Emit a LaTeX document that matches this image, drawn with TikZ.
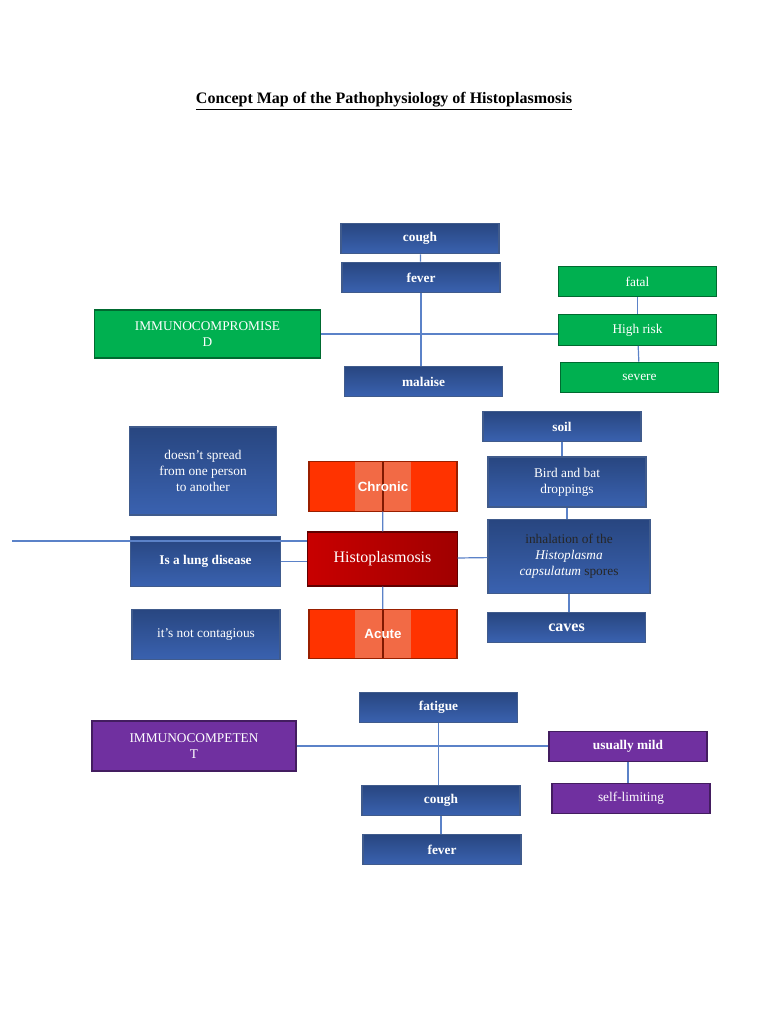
\documentclass[tikz,border=0pt]{standalone}
\usepackage{fontspec}
\setmainfont{Liberation Serif}
\setsansfont{Liberation Sans}
\usetikzlibrary{positioning}
\definecolor{bluetop}{HTML}{284680}
\definecolor{bluebot}{HTML}{3A62B0}
\definecolor{linkblue}{HTML}{5B82C8}
\definecolor{cgreen}{HTML}{00B050}
\definecolor{cpurple}{HTML}{7030A0}
\definecolor{cred}{HTML}{FF3300}
\definecolor{clight}{HTML}{F26A45}
\definecolor{histtop}{HTML}{C80000}
\definecolor{histbot}{HTML}{A00000}

\begin{document}
\begin{tikzpicture}
[	x=0.75pt,y=-0.75pt,
	box/.style={rectangle,draw=linkblue!70!black,line width=0.8,top color=bluetop,bottom color=bluebot,text=white,font=\bfseries,align=center,inner sep=1pt,minimum width=118.5pt,minimum height=23pt},
	green/.style={box,fill=cgreen,top color=cgreen,bottom color=cgreen,draw=cgreen!60!black},
	purple/.style={box,fill=cpurple,top color=cpurple,bottom color=cpurple,draw=cpurple!60!black},
	hot/.style={rectangle,draw=cred!60!black,line width=0.8,fill=cred,text=white,font=\sffamily\bfseries,minimum width=111pt,minimum height=37pt,
		path picture={\fill[clight] ([xshift=-21pt]path picture bounding box.south) rectangle ([xshift=21pt]path picture bounding box.north);
			\draw[cred!50!black] (path picture bounding box.south) -- (path picture bounding box.north);}},
	link/.style={draw=linkblue,line width=0.9}
]
\useasboundingbox (0,0) rectangle (768,1024);
\fill[white] (0,0) rectangle (768,1024);

\node[font=\bfseries\large] (title) at (384,101) {\underline{Concept Map of the Pathophysiology of Histoplasmosis}};

% top: immunocompromised
\node[box] (cough1) at (420,238.5) {cough};
\node[box] (fever1) at (421,277.5) {fever};
\node[box] (malaise) at (423.5,381.5) {malaise};
\node[green,font=\normalfont,minimum width=170pt,minimum height=36pt] (icomp) at (207.5,334) {IMMUNOCOMPROMISE\\D};
\node[green,font=\normalfont] (fatal) at (637.5,281.5) {fatal};
\node[green,font=\normalfont] (highrisk) at (637.5,330) {High risk};
\node[green,font=\normalfont] (severe) at (639.5,377.5) {severe};

\draw[link] (cough1) -- (fever1);
\draw[link] (fever1.south) -- (fever1.south |- malaise.north);
\draw[link] (icomp.east) -- (icomp.east -| highrisk.west);
\draw[link] (fatal) -- (highrisk);
\draw[link] (highrisk) -- (severe);

% middle: histoplasmosis
\node[box,font=\normalfont,minimum width=110pt,minimum height=66pt] (spread) at (203,471) {doesn't spread\\from one person\\to another};
\node[hot] (chronic) at (383,486.5) {Chronic};
\node[rectangle,draw=histbot!60!black,line width=0.8,left color=histtop,right color=histbot,text=white,font=\large,minimum width=112pt,minimum height=40.5pt] (histo) at (382.5,559) {Histoplasmosis};
\node[box,minimum width=112pt,minimum height=37pt] (lung) at (205.5,561.5) {Is a lung disease};
\node[box,font=\normalfont,minimum width=111pt,minimum height=38pt] (contag) at (206,634.5) {it's not contagious};
\node[hot] (acute) at (383,634) {Acute};
\node[box] (soil) at (562,426.5) {soil};
\node[box,font=\normalfont,minimum height=37.5pt] (bird) at (567,482) {Bird and bat\\droppings};
\node[box,font=\normalfont,text=black!85,minimum width=121.5pt,minimum height=55pt] (inhal) at (569,556.5) {inhalation of the\\\textcolor{white}{\itshape Histoplasma}\\\textcolor{white}{\itshape capsulatum} spores};
\node[box,font=\bfseries\large,minimum height=22pt] (caves) at (566.5,627.5) {caves};
\coordinate (lft) at (12,541);

\draw[link] (lft) -- (lft -| histo.west);
\draw[link] (lung.east) -- (lung.east -| histo.west);
\draw[link] (chronic) -- (histo);
\draw[link] (histo) -- (acute);
\draw[link] (histo) -- (inhal);
\draw[link] (soil) -- (soil |- bird.north);
\draw[link] (bird) -- (bird |- inhal.north);
\draw[link] (inhal) -- (inhal |- caves.north);

% bottom: immunocompetent
\node[box] (fatigue) at (438.5,707.5) {fatigue};
\node[purple,font=\normalfont,minimum width=153pt,minimum height=37.5pt] (icompet) at (194,746) {IMMUNOCOMPETEN\\T};
\node[purple] (mild) at (628,746.5) {usually mild};
\node[box] (cough2) at (441,800.5) {cough};
\node[box] (fever2) at (442,849.5) {fever};
\node[purple,font=\normalfont] (selflim) at (631,798.5) {self-limiting};

\draw[link] (icompet.east) -- (icompet.east -| mild.west);
\draw[link] (fatigue.south) -- (fatigue.south |- cough2.north);
\draw[link] (cough2.south) -- (cough2.south |- fever2.north);
\draw[link] (mild.south) -- (mild.south |- selflim.north);

\end{tikzpicture}
\end{document}
